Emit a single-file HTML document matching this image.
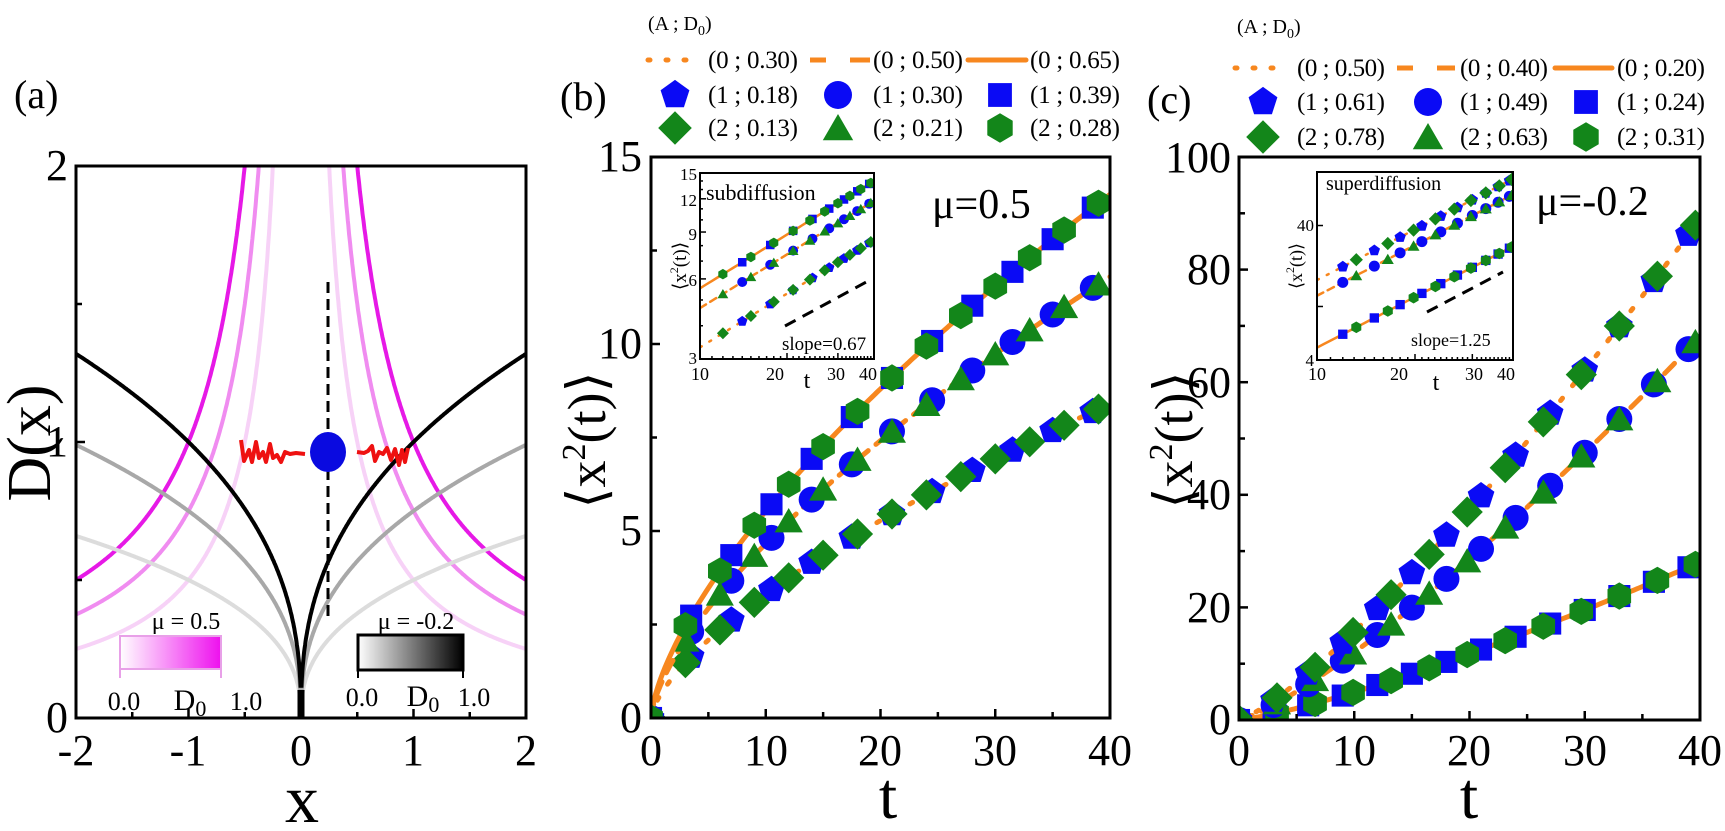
<!DOCTYPE html>
<html><head><meta charset="utf-8">
<style>
html,body{margin:0;padding:0;background:#fff;}
svg{display:block;}
svg text, svg tspan{font-family:"Liberation Serif","DejaVu Serif",serif !important;fill:#000;}
</style></head>
<body>
<svg id="s" xmlns="http://www.w3.org/2000/svg" width="1725" height="831" viewBox="0 0 1725 831" font-family="Liberation Serif, DejaVu Serif, serif">
<defs>
<linearGradient id="gm" x1="0" x2="1" y1="0" y2="0"><stop offset="0" stop-color="#ffffff"/><stop offset="1" stop-color="#ee10ee"/></linearGradient>
<linearGradient id="gk" x1="0" x2="1" y1="0" y2="0"><stop offset="0" stop-color="#ffffff"/><stop offset="1" stop-color="#000000"/></linearGradient>
<clipPath id="ca"><rect x="76" y="166" width="450" height="552"/></clipPath>
<clipPath id="cb"><rect x="651" y="157" width="459" height="561"/></clipPath>
<clipPath id="cc"><rect x="1239" y="157" width="461" height="563"/></clipPath>
<clipPath id="cib"><rect x="700" y="173" width="174" height="186"/></clipPath>
<clipPath id="cic"><rect x="1317" y="172" width="196" height="188"/></clipPath>
</defs>
<g id="g"></g>

<!-- Panel a texts -->
<text font-family="Liberation Serif, serif" x="14" y="108" font-size="40">(a)</text>
<text font-family="Liberation Serif, serif" x="68" y="732" font-size="44" text-anchor="end">0</text>
<text font-family="Liberation Serif, serif" x="68" y="456" font-size="44" text-anchor="end">1</text>
<text font-family="Liberation Serif, serif" x="68" y="180" font-size="44" text-anchor="end">2</text>
<text font-family="Liberation Serif, serif" x="76" y="765" font-size="44" text-anchor="middle">-2</text>
<text font-family="Liberation Serif, serif" x="188" y="765" font-size="44" text-anchor="middle">-1</text>
<text font-family="Liberation Serif, serif" x="301" y="765" font-size="44" text-anchor="middle">0</text>
<text font-family="Liberation Serif, serif" x="413" y="765" font-size="44" text-anchor="middle">1</text>
<text font-family="Liberation Serif, serif" x="526" y="765" font-size="44" text-anchor="middle">2</text>
<text font-family="Liberation Serif, serif" x="302" y="822" font-size="68" text-anchor="middle">x</text>
<text font-family="Liberation Serif, serif" transform="translate(50,443) rotate(-90)" font-size="62" text-anchor="middle">D(x)</text>
<text font-family="Liberation Serif, serif" x="186" y="629" font-size="24" text-anchor="middle">μ = 0.5</text>
<text font-family="Liberation Serif, serif" x="416" y="629" font-size="24" text-anchor="middle">μ = -0.2</text>
<text font-family="Liberation Serif, serif" x="124" y="710" font-size="26" text-anchor="middle">0.0</text>
<text font-family="Liberation Serif, serif" x="190" y="710" font-size="30" text-anchor="middle">D<tspan font-size="22" dy="6">0</tspan></text>
<text font-family="Liberation Serif, serif" x="246" y="710" font-size="26" text-anchor="middle">1.0</text>
<text font-family="Liberation Serif, serif" x="362" y="706" font-size="26" text-anchor="middle">0.0</text>
<text font-family="Liberation Serif, serif" x="423" y="706" font-size="30" text-anchor="middle">D<tspan font-size="22" dy="6">0</tspan></text>
<text font-family="Liberation Serif, serif" x="474" y="706" font-size="26" text-anchor="middle">1.0</text>

<!-- Panel b texts -->
<text font-family="Liberation Serif, serif" x="560" y="110" font-size="40">(b)</text>
<text font-family="Liberation Serif, serif" x="648" y="30" font-size="20">(A ; D<tspan font-size="14" dy="5">0</tspan><tspan dy="-5">)</tspan></text>
<text font-family="Liberation Serif, serif" x="708" y="68" font-size="25" textLength="90">(0 ; 0.30)</text>
<text font-family="Liberation Serif, serif" x="873" y="68" font-size="25" textLength="90">(0 ; 0.50)</text>
<text font-family="Liberation Serif, serif" x="1030" y="68" font-size="25" textLength="90">(0 ; 0.65)</text>
<text font-family="Liberation Serif, serif" x="708" y="103" font-size="25" textLength="90">(1 ; 0.18)</text>
<text font-family="Liberation Serif, serif" x="873" y="103" font-size="25" textLength="90">(1 ; 0.30)</text>
<text font-family="Liberation Serif, serif" x="1030" y="103" font-size="25" textLength="90">(1 ; 0.39)</text>
<text font-family="Liberation Serif, serif" x="708" y="136" font-size="25" textLength="90">(2 ; 0.13)</text>
<text font-family="Liberation Serif, serif" x="873" y="136" font-size="25" textLength="90">(2 ; 0.21)</text>
<text font-family="Liberation Serif, serif" x="1030" y="136" font-size="25" textLength="90">(2 ; 0.28)</text>
<text font-family="Liberation Serif, serif" x="642" y="732" font-size="44" text-anchor="end">0</text>
<text font-family="Liberation Serif, serif" x="642" y="545" font-size="44" text-anchor="end">5</text>
<text font-family="Liberation Serif, serif" x="642" y="358" font-size="44" text-anchor="end">10</text>
<text font-family="Liberation Serif, serif" x="642" y="171" font-size="44" text-anchor="end">15</text>
<text font-family="Liberation Serif, serif" x="651" y="765" font-size="44" text-anchor="middle">0</text>
<text font-family="Liberation Serif, serif" x="766" y="765" font-size="44" text-anchor="middle">10</text>
<text font-family="Liberation Serif, serif" x="880" y="765" font-size="44" text-anchor="middle">20</text>
<text font-family="Liberation Serif, serif" x="995" y="765" font-size="44" text-anchor="middle">30</text>
<text font-family="Liberation Serif, serif" x="1110" y="765" font-size="44" text-anchor="middle">40</text>
<text font-family="Liberation Serif, serif" x="888" y="818" font-size="66" text-anchor="middle">t</text>
<text font-family="Liberation Serif, serif" transform="translate(605,440) rotate(-90)" font-size="54" text-anchor="middle">⟨x<tspan font-size="34" dy="-20">2</tspan><tspan dy="20">(t)⟩</tspan></text>
<text font-family="Liberation Serif, serif" x="932" y="218" font-size="42">μ=0.5</text>
<text font-family="Liberation Serif, serif" x="706" y="200" font-size="22">subdiffusion</text>
<text font-family="Liberation Serif, serif" x="782" y="350" font-size="19">slope=0.67</text>
<text font-family="Liberation Serif, serif" x="697" y="180" font-size="17" text-anchor="end">15</text>
<text font-family="Liberation Serif, serif" x="697" y="206" font-size="17" text-anchor="end">12</text>
<text font-family="Liberation Serif, serif" x="697" y="240" font-size="17" text-anchor="end">9</text>
<text font-family="Liberation Serif, serif" x="697" y="286" font-size="17" text-anchor="end">6</text>
<text font-family="Liberation Serif, serif" x="697" y="364" font-size="17" text-anchor="end">3</text>
<text font-family="Liberation Serif, serif" x="700" y="380" font-size="18" text-anchor="middle">10</text>
<text font-family="Liberation Serif, serif" x="784" y="380" font-size="18" text-anchor="end">20</text>
<text font-family="Liberation Serif, serif" x="807" y="388" font-size="24" text-anchor="middle">t</text>
<text font-family="Liberation Serif, serif" x="836" y="380" font-size="18" text-anchor="middle">30</text>
<text font-family="Liberation Serif, serif" x="868" y="380" font-size="18" text-anchor="middle">40</text>
<text font-family="Liberation Serif, serif" transform="translate(686,266) rotate(-90)" font-size="19" text-anchor="middle">⟨x<tspan font-size="12" dy="-8">2</tspan><tspan dy="8">(t)⟩</tspan></text>

<!-- Panel c texts -->
<text font-family="Liberation Serif, serif" x="1147" y="113" font-size="40">(c)</text>
<text font-family="Liberation Serif, serif" x="1237" y="33" font-size="20">(A ; D<tspan font-size="14" dy="5">0</tspan><tspan dy="-5">)</tspan></text>
<text font-family="Liberation Serif, serif" x="1297" y="76" font-size="25" textLength="88">(0 ; 0.50)</text>
<text font-family="Liberation Serif, serif" x="1460" y="76" font-size="25" textLength="88">(0 ; 0.40)</text>
<text font-family="Liberation Serif, serif" x="1617" y="76" font-size="25" textLength="88">(0 ; 0.20)</text>
<text font-family="Liberation Serif, serif" x="1297" y="110" font-size="25" textLength="88">(1 ; 0.61)</text>
<text font-family="Liberation Serif, serif" x="1460" y="110" font-size="25" textLength="88">(1 ; 0.49)</text>
<text font-family="Liberation Serif, serif" x="1617" y="110" font-size="25" textLength="88">(1 ; 0.24)</text>
<text font-family="Liberation Serif, serif" x="1297" y="145" font-size="25" textLength="88">(2 ; 0.78)</text>
<text font-family="Liberation Serif, serif" x="1460" y="145" font-size="25" textLength="88">(2 ; 0.63)</text>
<text font-family="Liberation Serif, serif" x="1617" y="145" font-size="25" textLength="88">(2 ; 0.31)</text>
<text font-family="Liberation Serif, serif" x="1231" y="734" font-size="44" text-anchor="end">0</text>
<text font-family="Liberation Serif, serif" x="1231" y="622" font-size="44" text-anchor="end">20</text>
<text font-family="Liberation Serif, serif" x="1231" y="509" font-size="44" text-anchor="end">40</text>
<text font-family="Liberation Serif, serif" x="1231" y="397" font-size="44" text-anchor="end">60</text>
<text font-family="Liberation Serif, serif" x="1231" y="284" font-size="44" text-anchor="end">80</text>
<text font-family="Liberation Serif, serif" x="1231" y="172" font-size="44" text-anchor="end">100</text>
<text font-family="Liberation Serif, serif" x="1239" y="765" font-size="44" text-anchor="middle">0</text>
<text font-family="Liberation Serif, serif" x="1354" y="765" font-size="44" text-anchor="middle">10</text>
<text font-family="Liberation Serif, serif" x="1469" y="765" font-size="44" text-anchor="middle">20</text>
<text font-family="Liberation Serif, serif" x="1585" y="765" font-size="44" text-anchor="middle">30</text>
<text font-family="Liberation Serif, serif" x="1700" y="765" font-size="44" text-anchor="middle">40</text>
<text font-family="Liberation Serif, serif" x="1469" y="818" font-size="66" text-anchor="middle">t</text>
<text font-family="Liberation Serif, serif" transform="translate(1192,440) rotate(-90)" font-size="54" text-anchor="middle">⟨x<tspan font-size="34" dy="-20">2</tspan><tspan dy="20">(t)⟩</tspan></text>
<text font-family="Liberation Serif, serif" x="1536" y="215" font-size="42">μ=-0.2</text>
<text font-family="Liberation Serif, serif" x="1326" y="190" font-size="20">superdiffusion</text>
<text font-family="Liberation Serif, serif" x="1411" y="346" font-size="18">slope=1.25</text>
<text font-family="Liberation Serif, serif" x="1314" y="231" font-size="17" text-anchor="end">40</text>
<text font-family="Liberation Serif, serif" x="1314" y="366" font-size="17" text-anchor="end">4</text>
<text font-family="Liberation Serif, serif" x="1317" y="380" font-size="18" text-anchor="middle">10</text>
<text font-family="Liberation Serif, serif" x="1408" y="380" font-size="18" text-anchor="end">20</text>
<text font-family="Liberation Serif, serif" x="1436" y="390" font-size="24" text-anchor="middle">t</text>
<text font-family="Liberation Serif, serif" x="1474" y="380" font-size="18" text-anchor="middle">30</text>
<text font-family="Liberation Serif, serif" x="1506" y="380" font-size="18" text-anchor="middle">40</text>
<text font-family="Liberation Serif, serif" transform="translate(1302,266) rotate(-90)" font-size="18" text-anchor="middle">⟨x<tspan font-size="12" dy="-8">2</tspan><tspan dy="8">(t)⟩</tspan></text>
</svg>
<script>
(function(){
var NS="http://www.w3.org/2000/svg",G=document.getElementById("g");
function el(n,a,p){var e=document.createElementNS(NS,n);for(var k in a)e.setAttribute(k,a[k]);(p||G).appendChild(e);return e;}
function path(pts){return "M"+pts.map(function(p){return p[0].toFixed(1)+","+p[1].toFixed(1)}).join("L");}
var OR="#f7871f",BL="#0a0af5",GR="#13861a";
var ga=el("g",{"clip-path":"url(#ca)"});
function AX(x){return 301+x*112.5}function AY(d){return 718-d*276}
function curve(f,col,w){var p=[];for(var i=-2000;i<=2000;i+=4){var x=i/1000;if(x==0)continue;var d=f(Math.abs(x));if(d>2.3)d=2.3;p.push([AX(x),AY(d)]);}
 var L=p.filter(function(q){return q[0]<301}),R=p.filter(function(q){return q[0]>301});
 el("path",{d:path(L),fill:"none",stroke:col,"stroke-width":w},ga);el("path",{d:path(R),fill:"none",stroke:col,"stroke-width":w},ga);}
curve(function(x){return 0.5/x},"#f7d2f7",4);
curve(function(x){return 0.75/x},"#f08cf0",4);
curve(function(x){return 1/x},"#e619e6",4);
curve(function(x){return 0.5*Math.pow(x,0.4)},"#dcdcdc",4);
curve(function(x){return 0.75*Math.pow(x,0.4)},"#a8a8a8",4);
curve(function(x){return Math.pow(x,0.4)},"#000",4);
el("line",{x1:301,y1:718,x2:301,y2:690,stroke:"#000","stroke-width":7},ga);
el("line",{x1:328,y1:282,x2:328,y2:622,stroke:"#000","stroke-width":3,"stroke-dasharray":"11,6"});
var s1=[[241,440],[244,461],[249,450],[252,462],[256,442],[259,458],[263,452],[266,462],[270,444],[273,458],[277,455],[281,462],[285,452],[290,454],[296,453],[305,454]];
var s2=[[357,452],[364,453],[368,451],[372,446],[375,461],[379,452],[383,454],[387,448],[391,460],[395,449],[399,465],[402,450],[405,462],[408,448]];
el("path",{d:path(s1),fill:"none",stroke:"#ee1111","stroke-width":4,"stroke-linejoin":"round"});
el("path",{d:path(s2),fill:"none",stroke:"#ee1111","stroke-width":4,"stroke-linejoin":"round"});
el("ellipse",{cx:328,cy:452,rx:18,ry:20,fill:"#0a0ae0"});
el("rect",{x:120,y:636,width:101,height:33,fill:"url(#gm)",stroke:"#e8a0e8","stroke-width":2});
el("line",{x1:120,y1:669,x2:120,y2:678,stroke:"#e8a0e8","stroke-width":2});el("line",{x1:221,y1:669,x2:221,y2:678,stroke:"#e8a0e8","stroke-width":2});
el("rect",{x:358,y:635,width:105,height:35,fill:"url(#gk)",stroke:"#000","stroke-width":3});
el("line",{x1:358,y1:670,x2:358,y2:678,stroke:"#000","stroke-width":2});el("line",{x1:463,y1:670,x2:463,y2:678,stroke:"#000","stroke-width":2});
el("rect",{x:76,y:166,width:450,height:552,fill:"none",stroke:"#000","stroke-width":3});
for(var x=-2;x<=2;x+=0.5){var m=(x%1==0);el("line",{x1:AX(x),x2:AX(x),y1:718,y2:718-(m?9:6),stroke:"#000","stroke-width":2.5});}
for(var d=0;d<=2;d+=0.5){var m=(d%1==0);el("line",{x1:76,x2:76+(m?9:6),y1:AY(d),y2:AY(d),stroke:"#000","stroke-width":2.5});}
function marker(type,cx,cy,r,col,p){
 var g=p||G;
 if(type=="circ")return el("circle",{cx:cx,cy:cy,r:r,fill:col},g);
 if(type=="sq")return el("rect",{x:cx-r*0.85,y:cy-r*0.85,width:r*1.7,height:r*1.7,fill:col},g);
 var n,rot,rr=r;
 if(type=="pent"){n=5;rot=-90;rr=r*1.08}
 if(type=="hex"){n=6;rot=-90;rr=r*1.05}
 if(type=="dia"){n=4;rot=-90;rr=r*1.2}
 if(type=="tri"){n=3;rot=-90;rr=r*1.25}
 var pts=[];for(var i=0;i<n;i++){var a=(rot+i*360/n)*Math.PI/180;pts.push([cx+rr*Math.cos(a),cy+rr*Math.sin(a)+(type=="tri"?rr*0.2:0)]);}
 return el("path",{d:path(pts)+"Z",fill:col},g);
}
function dashOf(st){return st=="dot"?"3,12":(st=="dash"?"14,10":"none")}
function lineStyle(st,w){var a={fill:"none",stroke:OR,"stroke-width":w,"stroke-linecap":"round"};if(st!="solid")a["stroke-dasharray"]=dashOf(st);return a;}
var BX=function(t){return 651+t*11.475},BY=function(v){return 718-v*37.4};
var gb=el("g",{"clip-path":"url(#cb)"});
var seriesB=[{V:8.4,st:"dot",b:"pent",g:"dia"},{V:11.8,st:"dash",b:"circ",g:"tri"},{V:14,st:"solid",b:"sq",g:"hex"}];
var ex=0.67;
seriesB.forEach(function(s){
 var p=[];for(var t=0;t<=40.01;t+=0.2)p.push([BX(t),BY(s.V*Math.pow(t/40,ex))]);
 var ls=lineStyle(s.st,5);if(s.st=="dot")ls["stroke-dasharray"]="3,16";
 el("path",Object.assign({d:path(p)},ls),gb);
 for(var t=0;t<=40;t+=3.5)marker(s.b,BX(t),BY(s.V*Math.pow(t/40,ex)),13,BL,gb);
 for(var t=0;t<=40;t+=3)marker(s.g,BX(t),BY(s.V*Math.pow(t/40,ex)),13,GR,gb);
});
el("rect",{x:651,y:157,width:459,height:561,fill:"none",stroke:"#000","stroke-width":3});
for(var t=0;t<=40;t+=5){var m=t%10==0;el("line",{x1:BX(t),x2:BX(t),y1:718,y2:718-(m?9:6),stroke:"#000","stroke-width":2.5});}
for(var v=0;v<=15;v+=2.5){var m=v%5==0;el("line",{x1:651,x2:651+(m?9:6),y1:BY(v),y2:BY(v),stroke:"#000","stroke-width":2.5});}
el("rect",{x:700,y:173,width:174,height:186,fill:"#fff"});
var IBX=function(t){return 700+174*Math.log(t/10)/Math.log(4)},IBY=function(v){return 359-186*Math.log(v/3)/Math.log(5)};
var gib=el("g",{"clip-path":"url(#cib)"});
seriesB.forEach(function(s){
 var p=[];for(var t=10;t<=40.01;t+=0.5)p.push([IBX(t),IBY(s.V*Math.pow(t/40,ex))]);
 var ls=lineStyle(s.st,2.5);if(s.st=="dot")ls["stroke-dasharray"]="2,9";if(s.st=="dash")ls["stroke-dasharray"]="7,5";
 el("path",Object.assign({d:path(p)},ls),gib);
 for(var t=10.5;t<=40;t+=3.5)if(t>=12)marker(s.b,IBX(t),IBY(s.V*Math.pow(t/40,ex)),5,BL,gib);
 for(var t=12;t<=40;t+=3)marker(s.g,IBX(t),IBY(s.V*Math.pow(t/40,ex)),5,GR,gib);
});
el("line",{x1:785,y1:326,x2:870,y2:280,stroke:"#000","stroke-width":3,"stroke-dasharray":"12,8"});
el("rect",{x:700,y:173,width:174,height:186,fill:"none",stroke:"#000","stroke-width":2});
for(var t=10;t<=40;t++){var m=(t%10==0);el("line",{x1:IBX(t),x2:IBX(t),y1:359,y2:359-(m?6:3),stroke:"#000","stroke-width":1.5});}
for(var v=3;v<=15;v++){var m=(v%3==0);el("line",{x1:700,x2:700+(m?6:3),y1:IBY(v),y2:IBY(v),stroke:"#000","stroke-width":1.5});}
var CX=function(t){return 1239+t*11.525},CY=function(v){return 720-v*5.63};
var gc=el("g",{"clip-path":"url(#cc)"});
var seriesC=[{V:28,st:"solid",b:"sq",g:"hex"},{V:68,st:"dash",b:"circ",g:"tri"},{V:89,st:"dot",b:"pent",g:"dia"}];
var ec=1.25;
seriesC.forEach(function(s){
 var p=[];for(var t=0;t<=40.01;t+=0.2)p.push([CX(t),CY(s.V*Math.pow(t/40,ec))]);
 var ls=lineStyle(s.st,5);if(s.st=="dot")ls["stroke-dasharray"]="3,16";
 el("path",Object.assign({d:path(p)},ls),gc);
 for(var t=0;t<=40;t+=3)marker(s.b,CX(t),CY(s.V*Math.pow(t/40,ec)),13,BL,gc);
 for(var t=0;t<=40;t+=3.3)marker(s.g,CX(t),CY(s.V*Math.pow(t/40,ec)),13,GR,gc);
});
el("rect",{x:1239,y:157,width:461,height:563,fill:"none",stroke:"#000","stroke-width":3});
for(var t=0;t<=40;t+=5){var m=t%10==0;el("line",{x1:CX(t),x2:CX(t),y1:720,y2:720-(m?9:6),stroke:"#000","stroke-width":2.5});}
for(var v=0;v<=100;v+=10){var m=v%20==0;el("line",{x1:1239,x2:1239+(m?9:6),y1:CY(v),y2:CY(v),stroke:"#000","stroke-width":2.5});}
el("rect",{x:1317,y:172,width:196,height:188,fill:"#fff"});
var ICX=function(t){return 1317+196*Math.log(t/10)/Math.log(4)},ICY=function(v){return 360-188*Math.log(v/4)/Math.log(25)};
var gic=el("g",{"clip-path":"url(#cic)"});
seriesC.forEach(function(s){
 var p=[];for(var t=10;t<=40.01;t+=0.5)p.push([ICX(t),ICY(s.V*Math.pow(t/40,ec))]);
 var ls=lineStyle(s.st,2.5);if(s.st=="dot")ls["stroke-dasharray"]="2,9";if(s.st=="dash")ls["stroke-dasharray"]="7,5";
 el("path",Object.assign({d:path(p)},ls),gic);
 for(var t=12;t<=40;t+=3)marker(s.b,ICX(t),ICY(s.V*Math.pow(t/40,ec)),5.5,BL,gic);
 for(var t=13.2;t<=40;t+=3.3)marker(s.g,ICX(t),ICY(s.V*Math.pow(t/40,ec)),5.5,GR,gic);
});
el("line",{x1:1427,y1:312,x2:1503,y2:272,stroke:"#000","stroke-width":3,"stroke-dasharray":"12,8"});
el("rect",{x:1317,y:172,width:196,height:188,fill:"none",stroke:"#000","stroke-width":2});
for(var t=10;t<=40;t++){var m=(t%10==0);el("line",{x1:ICX(t),x2:ICX(t),y1:360,y2:360-(m?6:3),stroke:"#000","stroke-width":1.5});}
[4,10,40,100].forEach(function(v){el("line",{x1:1317,x2:1323,y1:ICY(v),y2:ICY(v),stroke:"#000","stroke-width":1.5});});
function legend(rows,cols,mk,styles){
 styles.forEach(function(st,i){var x1=cols[i][0],x2=cols[i][1];
  var a=lineStyle(st,5);if(st=="dot")a["stroke-dasharray"]="2,16";if(st=="dash"){a["stroke-dasharray"]="16,24,30";a["stroke-linecap"]="butt";}
  a.d="M"+x1+","+rows[0]+"L"+x2+","+rows[0];el("path",a);});
 mk.forEach(function(m){marker(m[0],m[1],rows[1],14,BL);marker(m[2],m[1],rows[2],14,GR);});
}
legend([60,95,128],[[648,695],[810,870],[968,1026]],[["pent",675,"dia"],["circ",838,"tri"],["sq",1000,"hex"]],["dot","dash","solid"]);
legend([68,102,137],[[1235,1283],[1397,1455],[1555,1612]],[["pent",1263,"dia"],["circ",1428,"tri"],["sq",1586,"hex"]],["dot","dash","solid"]);
})();
</script>
</body></html>
